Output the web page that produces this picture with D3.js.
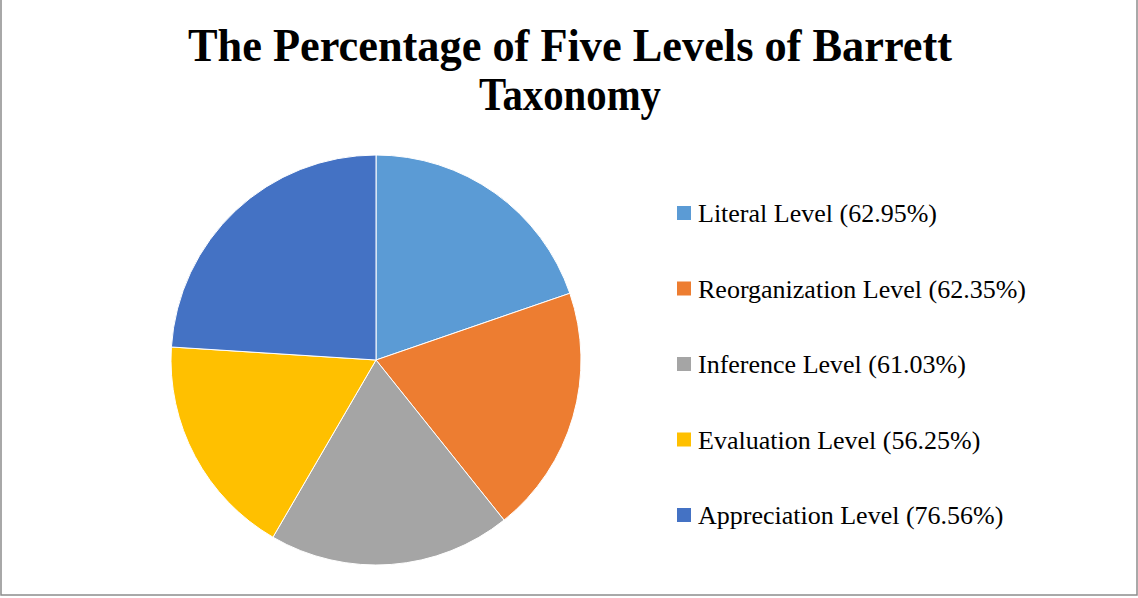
<!DOCTYPE html>
<html>
<head>
<meta charset="utf-8">
<script src="https://cdn.jsdelivr.net/npm/d3@7"></script>
<style>
  body { margin: 0; background: #fff; }
  svg { display: block; }
</style>
</head>
<body>
<script>
// Storrelse paa SVG
const w = 1138;
const h = 598;

// Data
const categories = ["Literal Level", "Reorganization Level", "Inference Level", "Evaluation Level", "Appreciation Level"];
const values = [62.95, 62.35, 61.03, 56.25, 76.56];
const colors = ["#5B9BD5", "#ED7D31", "#A5A5A5", "#FFC000", "#4472C4"];

const svg = d3.select("body").append("svg").attr("width", w).attr("height", h);

// Ramme
svg.append("rect")
  .attr("x", 1)
  .attr("y", -2)
  .attr("width", 1136)
  .attr("height", 597)
  .attr("fill", "none")
  .attr("stroke", "#8c8c8c")
  .attr("stroke-width", 1.5);

// Titel
const titleLines = ["The Percentage of Five Levels of Barrett", "Taxonomy"];
const title = svg.append("g")
  .attr("font-family", "'Liberation Serif', 'Times New Roman', serif")
  .attr("font-weight", "bold")
  .attr("font-size", "46px")
  .attr("fill", "#000")
  .attr("text-anchor", "middle");

title.append("text")
  .attr("x", 570).attr("y", 61)
  .attr("textLength", 764)
  .attr("lengthAdjust", "spacingAndGlyphs")
  .text(titleLines[0]);
title.append("text")
  .attr("x", 570).attr("y", 110)
  .attr("textLength", 182)
  .attr("lengthAdjust", "spacingAndGlyphs")
  .text(titleLines[1]);

// Lagkage
const cx = 376, cy = 360, r = 205;
const pie = d3.pie().sort(null).value(function (d) { return d; });
const arc = d3.arc().innerRadius(0).outerRadius(r);

svg.append("g")
  .attr("transform", "translate(" + cx + "," + cy + ")")
  .selectAll("path")
  .data(pie(values))
  .enter()
  .append("path")
  .attr("d", arc)
  .attr("fill", function (d, i) { return colors[i]; })
  .attr("stroke", "#fff")
  .attr("stroke-width", 1);

// Forklaring
const legendY = d3.scalePoint().domain(d3.range(categories.length)).range([213, 515]);

const legend = svg.selectAll(".legend")
  .data(categories)
  .enter()
  .append("g")
  .attr("class", "legend")
  .attr("transform", function (d, i) { return "translate(677," + legendY(i) + ")"; });

legend.append("rect")
  .attr("x", 0).attr("y", -7)
  .attr("width", 14).attr("height", 14)
  .attr("fill", function (d, i) { return colors[i]; });

legend.append("text")
  .attr("x", 21)
  .attr("y", 9)
  .attr("font-family", "'Liberation Serif', 'Times New Roman', serif")
  .attr("font-size", "26px")
  .attr("fill", "#000")
  .text(function (d, i) { return d + " (" + values[i].toFixed(2) + "%)"; });
</script>
</body>
</html>
